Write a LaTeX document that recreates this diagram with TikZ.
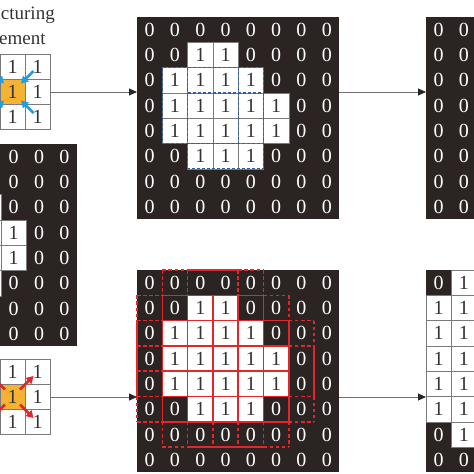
\documentclass[tikz,border=0pt]{standalone}
\usepackage{fontspec}
\setmainfont{Liberation Serif}
\usetikzlibrary{arrows.meta}
\definecolor{darkc}{HTML}{2B2422}
\definecolor{redc}{HTML}{E3262C}
\definecolor{bluedash}{HTML}{2E5FA8}
\definecolor{bluearr}{HTML}{1E9FE3}
\definecolor{orangec}{HTML}{F6B232}
\definecolor{gridc}{HTML}{7A7A7A}
\definecolor{txtc}{HTML}{333333}
\definecolor{arrc}{HTML}{707070}
\newcommand\cellsz{25.3}
\newcommand\onesin{1/2,1/3,2/1,2/2,2/3,2/4,3/1,3/2,3/3,3/4,3/5,4/1,4/2,4/3,4/4,4/5,5/2,5/3,5/4}
\newcommand\onesero{3/2,3/3,4/3}
\newcommand\onesdil{0/1,0/2,0/3,0/4,1/0,1/1,1/2,1/3,1/4,1/5,2/0,2/1,2/2,2/3,2/4,2/5,2/6,3/0,3/1,3/2,3/3,3/4,3/5,3/6,4/0,4/1,4/2,4/3,4/4,4/5,4/6,5/0,5/1,5/2,5/3,5/4,5/5,5/6,6/1,6/2,6/3,6/4,6/5}
\tikzset{
  digit/.style={inner sep=0pt, anchor=center, font=\fontsize{20}{20}\selectfont},
  zero/.style={digit, text=white},
  one/.style={digit, text=txtc},
  cellline/.style={draw=gridc, line width=0.6pt},
  conn/.style={draw=arrc, line width=0.9pt, -{Triangle[length=8pt,width=7pt,color=black!85]}},
  redsolid/.style={draw=redc, line width=1.5pt},
  reddash/.style={draw=redc, line width=1.5pt, dash pattern=on 3.5pt off 2.6pt},
  bluedashed/.style={draw=bluedash, line width=1.3pt, dash pattern=on 3pt off 2pt},
  bluearrow/.style={draw=bluearr, line width=2.6pt, -{Triangle[length=7pt,width=8pt]}},
  redarrow/.style={draw=redc, line width=2.6pt, -{Triangle[length=7pt,width=8pt]}},
  lbl/.style={text=txtc, anchor=base, inner sep=0pt, font=\fontsize{19}{19}\selectfont},
}
\newcommand\drawgrid[4]{%
  \fill[darkc] (#1,#2) rectangle ++({8*\cellsz},{8*\cellsz});
  \foreach \r in {0,...,7}{\foreach \c in {0,...,7}{
    \node[zero] (#4z\r\c) at ({#1+(\c+0.5)*\cellsz},{#2+(\r+0.5)*\cellsz}) {0};}}
  \foreach \r/\c in #3{
    \fill[white] ({#1+\c*\cellsz},{#2+\r*\cellsz}) rectangle ++(\cellsz,\cellsz);
    \node[one] (#4o\r\c) at ({#1+(\c+0.5)*\cellsz},{#2+(\r+0.5)*\cellsz}) {1};}
  \foreach \r/\c in #3{
    \draw[cellline] ({#1+\c*\cellsz},{#2+\r*\cellsz}) rectangle ++(\cellsz,\cellsz);}
}
\newcommand\drawse[3]{%
  \foreach \r in {0,1,2}{\foreach \c in {0,1,2}{
    \ifnum\r\c=11 \def\fc{orangec}\else\def\fc{white}\fi
    \filldraw[fill=\fc, cellline] ({#1+\c*25},{#2+\r*25}) rectangle ++(25,25);
    \node[one] (#3s\r\c) at ({#1+(\c+0.5)*25},{#2+(\r+0.5)*25}) {1};}}
}
\begin{document}
\begin{tikzpicture}[x=1pt,y=-1pt]
\useasboundingbox (0,0) rectangle (474,474);
% labels
\node[lbl] (lblA) at (12,19) {Structuring};
\node[lbl] (lblB) at (15.5,44) {element};
% structuring elements
\drawse{-25}{54.5}{seA}
\drawse{-25}{359.5}{seB}
% grids
\drawgrid{-125.4}{144}{\onesin}{li}
\drawgrid{137}{17}{\onesin}{tm}
\drawgrid{137}{270}{\onesin}{bm}
\drawgrid{426}{17}{\onesero}{rt}
\drawgrid{426}{270}{\onesdil}{rb}
% blue dashed neighbourhoods (erosion)
\draw[bluedashed] ({137+1*\cellsz},{17+2*\cellsz}) rectangle ({137+4*\cellsz},{17+5*\cellsz});
\draw[bluedashed] ({137+2*\cellsz},{17+2*\cellsz}) rectangle ({137+5*\cellsz},{17+5*\cellsz});
\draw[bluedashed] ({137+2*\cellsz},{17+3*\cellsz}) rectangle ({137+5*\cellsz},{17+6*\cellsz});
% red neighbourhoods (dilation)
\foreach \l/\a/\b in {0/2/4,1/1/5,2/1/6,3/1/6,4/1/6,5/1/6,6/1/6,7/2/5}
  \draw[redsolid] ({137+\a*\cellsz},{270+\l*\cellsz}) -- ({137+\b*\cellsz},{270+\l*\cellsz});
\foreach \l/\a/\b in {0/1/2,0/4/5,1/0/1,1/5/6,2/0/1,2/6/7,3/0/1,3/6/7,4/0/1,5/0/1,5/6/7,6/0/1,6/6/7,7/1/2,7/5/6}
  \draw[reddash] ({137+\a*\cellsz},{270+\l*\cellsz}) -- ({137+\b*\cellsz},{270+\l*\cellsz});
\foreach \k/\a/\b in {0/2/5,1/1/6,2/1/6,3/1/6,4/1/6,5/1/6,6/2/6,7/3/5}
  \draw[redsolid] ({137+\k*\cellsz},{270+\a*\cellsz}) -- ({137+\k*\cellsz},{270+\b*\cellsz});
\foreach \k/\a/\b in {0/1/2,0/5/6,1/0/1,1/6/7,2/0/1,2/6/7,3/6/7,4/0/1,4/6/7,5/0/1,5/6/7,6/1/2,6/6/7,7/2/3,7/5/6}
  \draw[reddash] ({137+\k*\cellsz},{270+\a*\cellsz}) -- ({137+\k*\cellsz},{270+\b*\cellsz});
% arrows inside structuring elements
\foreach \cx/\cy/\dx/\dy in {25/79.5/1/-1,25/104.5/1/1,0/79.5/-1/-1,0/104.5/-1/1}
  \draw[bluearrow] ({\cx+8.5*\dx},{\cy+8.5*\dy}) -- ({\cx-4*\dx},{\cy-4*\dy});
\foreach \cx/\cy/\dx/\dy in {25/384.5/1/-1,25/409.5/1/1,0/384.5/-1/-1,0/409.5/-1/1}
  \draw[redarrow] ({\cx-5*\dx},{\cy-5*\dy}) -- ({\cx+8.5*\dx},{\cy+8.5*\dy});
% connectors
\coordinate (seAout) at (50,92);
\coordinate (tmin) at (137,92);
\coordinate (tmout) at (339.4,92);
\coordinate (rtin) at (426,92);
\coordinate (seBout) at (50,397);
\coordinate (bmin) at (137,397);
\coordinate (bmout) at (339.4,397);
\coordinate (rbin) at (426,397);
\draw[conn] (seAout) -- (tmin);
\draw[conn] (tmout) -- (rtin);
\draw[conn] (seBout) -- (bmin);
\draw[conn] (bmout) -- (rbin);
\end{tikzpicture}
\end{document}
